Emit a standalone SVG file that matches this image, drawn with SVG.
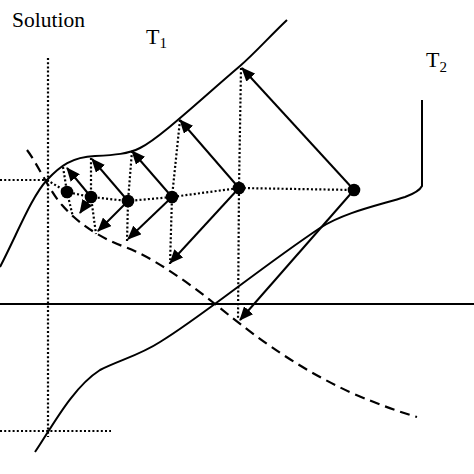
<svg xmlns="http://www.w3.org/2000/svg" width="474" height="474" viewBox="0 0 474 474">
<style>
.lbl{font-family:"Liberation Serif","Times New Roman",serif;fill:#000}
.solid{fill:none;stroke:#000;stroke-width:2}
.dot{fill:none;stroke:#000;stroke-width:2.2;stroke-dasharray:2 2.2}
.dash{fill:none;stroke:#000;stroke-width:2.2;stroke-dasharray:10 6}
.arr{fill:none;stroke:#000;stroke-width:2;marker-end:url(#ah)}
.node{fill:#000}
</style>
<defs>
<marker id="ah" markerUnits="userSpaceOnUse" markerWidth="14" markerHeight="12" viewBox="0 0 14 12" refX="13" refY="6" orient="auto">
<path d="M0,0 L14,6 L0,12 Z" fill="#000"/>
</marker>
</defs>
<g id="labels">
<text class="lbl" x="12" y="27" font-size="21.5">Solution</text>
<text class="lbl" x="146" y="44" font-size="22">T<tspan font-size="15" dy="4">1</tspan></text>
<text class="lbl" x="426" y="67" font-size="22">T<tspan font-size="15" dy="5">2</tspan></text>
</g>
<g id="axes">
<line class="solid" x1="0" y1="304" x2="474" y2="304" stroke-width="1.6"/>
<line class="dot" x1="48" y1="58" x2="48" y2="437"/>
<line class="dot" x1="0" y1="180" x2="47" y2="180"/>
<line class="dot" x1="0" y1="431" x2="111" y2="431"/>
</g>
<g id="curves">
<path id="T1" class="solid" d="M0,267 C18,232 32,196 47,180 C60,166 72,157 95,156 C115,155 128,154 140,148 C160,138 200,100 240,66 C255,53 270,36 287,20"/>
<path id="T2" class="solid" d="M35,452 C52,427 72,388 100,370 C120,360 140,355 160,342 C200,318 260,268 320,228 C345,212 380,205 405,197 C416,193 420,190 422,186 L422,100"/>
<path id="lower" class="dash" d="M27,150 C37,163 50,192 62,205 C75,220 95,236 125,247 C150,256 185,280 215,304 C245,328 290,365 354,394 C380,405 400,412 417,417"/>
</g>
<g id="connectors">
<polyline class="dot" points="47,180 67,192 91,197 128,201 172,197 239,188 354,190"/>
<polyline class="dot" points="63,167 67,192 73,217"/>
<polyline class="dot" points="91,158 91,197 96,234"/>
<polyline class="dot" points="132,151 128,201 127,242"/>
<polyline class="dot" points="180,120 172,197 170,264"/>
<polyline class="dot" points="241,68 239,188 238,320"/>
<line class="arr" x1="354" y1="190" x2="242" y2="68"/>
<line class="arr" x1="354" y1="190" x2="240" y2="320"/>
<line class="arr" x1="239" y1="188" x2="180" y2="120"/>
<line class="arr" x1="239" y1="188" x2="170" y2="263"/>
<line class="arr" x1="172" y1="197" x2="132" y2="151"/>
<line class="arr" x1="172" y1="197" x2="128" y2="239"/>
<line class="arr" x1="128" y1="201" x2="92" y2="159"/>
<line class="arr" x1="128" y1="201" x2="98" y2="231"/>
<line class="arr" x1="91" y1="197" x2="67" y2="168"/>
<line class="arr" x1="91" y1="197" x2="80" y2="213"/>
</g>
<g id="n1"><circle class="node" cx="67" cy="192" r="6.3"/></g>
<g id="n2"><circle class="node" cx="91" cy="197" r="6.3"/></g>
<g id="n3"><circle class="node" cx="128" cy="201" r="6.3"/></g>
<g id="n4"><circle class="node" cx="172" cy="197" r="6.3"/></g>
<g id="n5"><circle class="node" cx="239" cy="188" r="6.3"/></g>
<g id="n6"><circle class="node" cx="354" cy="190" r="6.3"/></g>
</svg>
